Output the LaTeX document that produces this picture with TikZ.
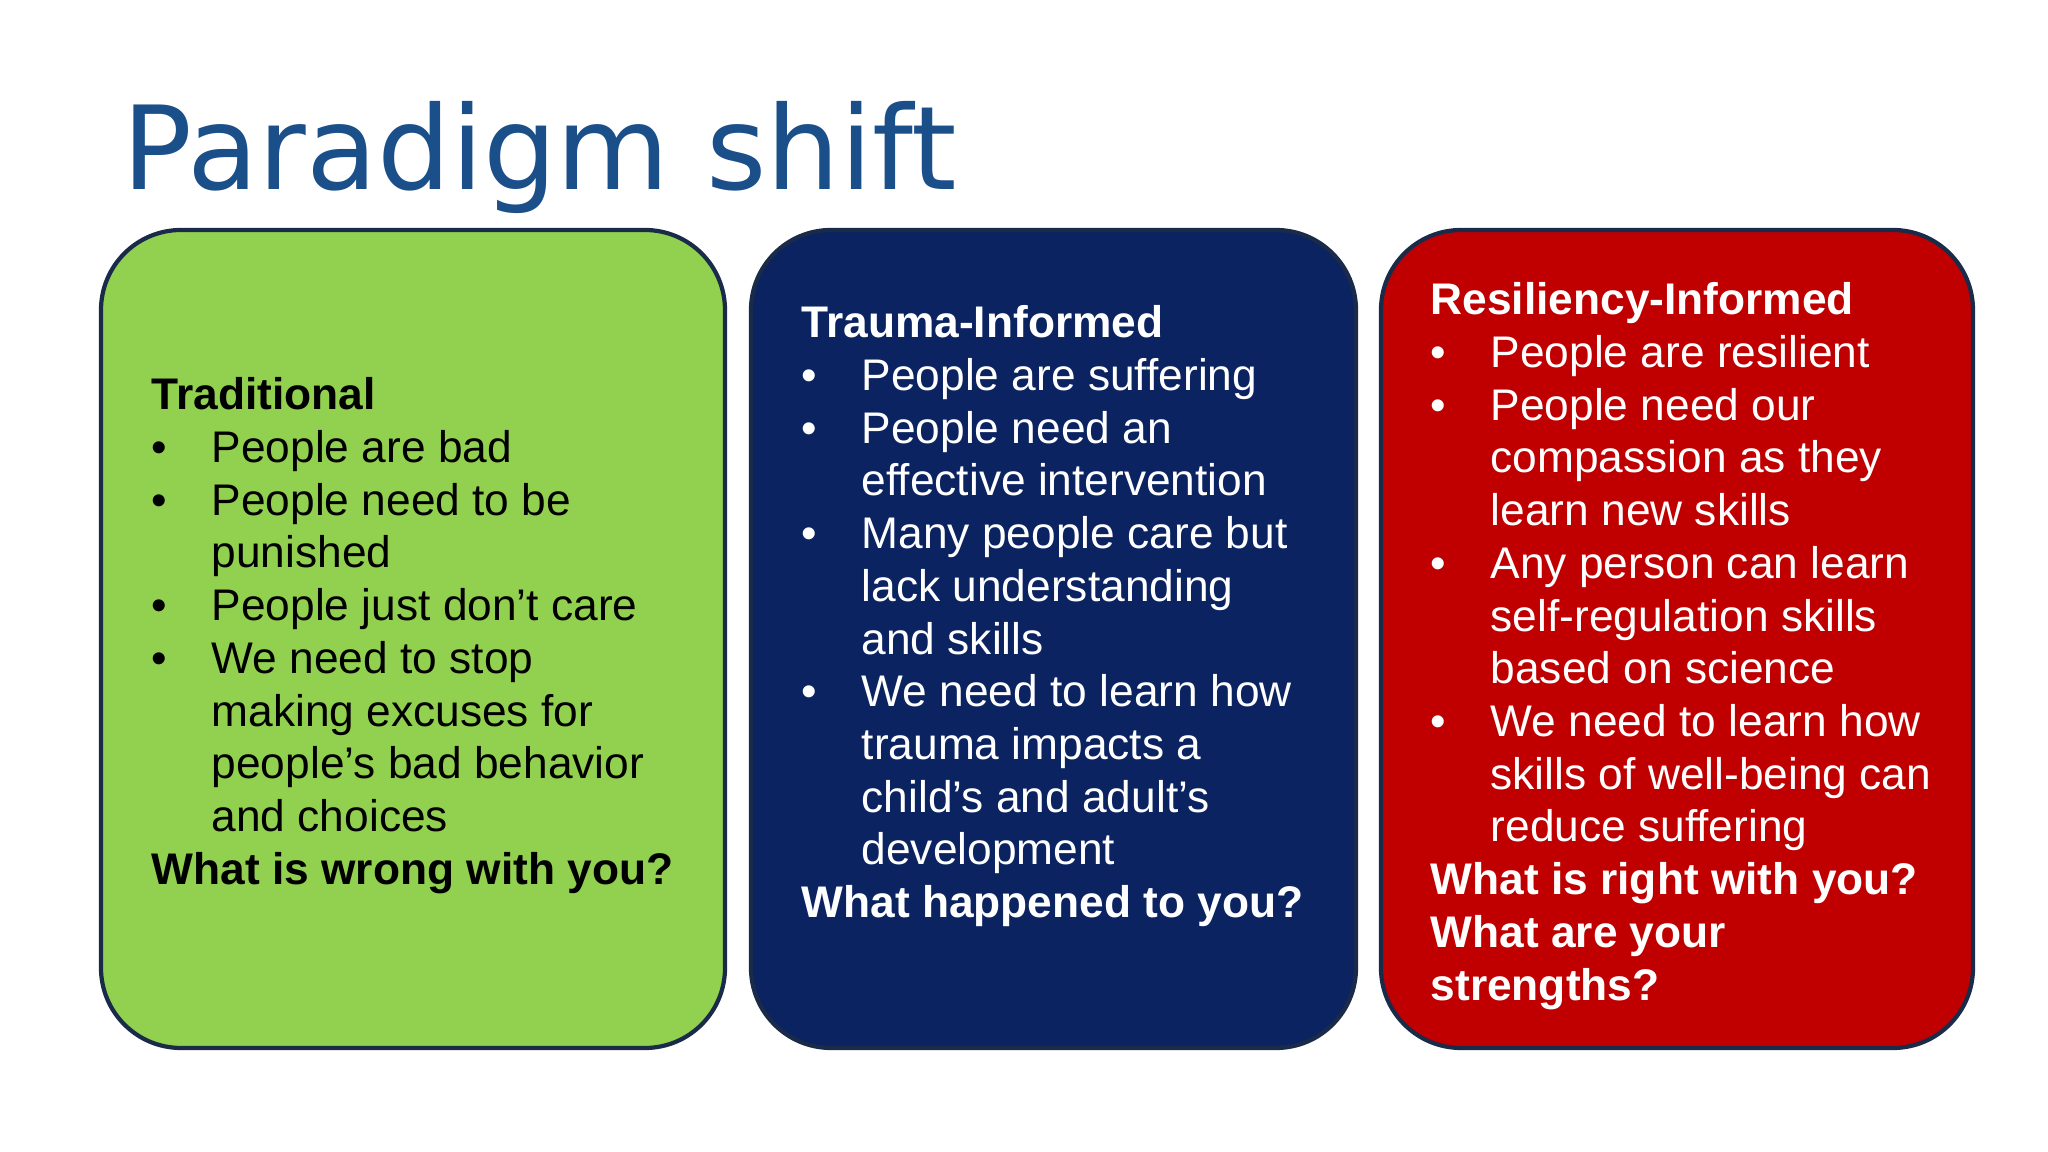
\documentclass[tikz,border=0pt]{standalone}
\usepackage{fontspec}
\setmainfont{Liberation Sans}
\newfontfamily\titlefont{DejaVu Sans}
\definecolor{ttl}{HTML}{1B4F8A}
\definecolor{gbox}{HTML}{92D050}
\definecolor{bbox}{HTML}{0B2361}
\definecolor{rbox}{HTML}{C00000}
\definecolor{edge}{HTML}{1A2B4A}
\newcommand{\bl}{\makebox[0.6cm][l]{\textbullet}}
\newcommand{\ct}{\hspace*{0.6cm}}
\tikzset{card/.style={draw=edge, line width=1.2pt, rounded corners=0.8cm},
  body/.style={anchor=north west, align=left, inner sep=0pt, font=\fontsize{12.6}{15}\selectfont}}
\begin{document}
\begin{tikzpicture}
\useasboundingbox (0,0) rectangle (20.48,11.52);
\node[anchor=base west, inner sep=0pt, text=ttl, font=\titlefont\fontsize{33}{36}\selectfont] (title) at (1.22,9.62) {Paradigm shift};
\draw[card, fill=gbox] (1.01,1.04) rectangle (7.25,9.22) node[pos=0] (g) {};
\draw[card, fill=bbox] (7.51,1.04) rectangle (13.56,9.22);
\draw[card, fill=rbox] (13.81,1.04) rectangle (19.73,9.22);
\node[body, text=black] (gt) at (1.51,7.75) {\textbf{Traditional}\\
\bl People are bad\\
\bl People need to be\\
\ct punished\\
\bl People just don’t care\\
\bl We need to stop\\
\ct making excuses for\\
\ct people’s bad behavior\\
\ct and choices\\
\textbf{What is wrong with you?}};
\node[body, text=white] (bt) at (8.01,8.47) {\textbf{Trauma-Informed}\\
\bl People are suffering\\
\bl People need an\\
\ct effective intervention\\
\bl Many people care but\\
\ct lack understanding\\
\ct and skills\\
\bl We need to learn how\\
\ct trauma impacts a\\
\ct child’s and adult’s\\
\ct development\\
\textbf{What happened to you?}};
\node[body, text=white] (rt) at (14.30,8.70) {\textbf{Resiliency-Informed}\\
\bl People are resilient\\
\bl People need our\\
\ct compassion as they\\
\ct learn new skills\\
\bl Any person can learn\\
\ct self-regulation skills\\
\ct based on science\\
\bl We need to learn how\\
\ct skills of well-being can\\
\ct reduce suffering\\
\textbf{What is right with you?}\\
\textbf{What are your}\\
\textbf{strengths?}};
\end{tikzpicture}
\end{document}
